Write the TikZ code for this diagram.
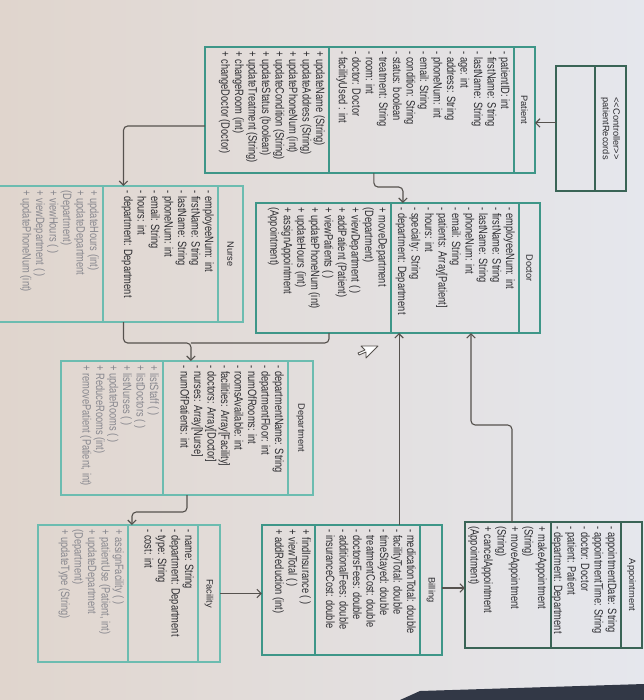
\documentclass[tikz,border=0pt]{standalone}
\usepackage{fontspec}
\setmainfont{Liberation Sans}
\usetikzlibrary{arrows.meta}

\definecolor{boxteal}{RGB}{62,150,136}
\definecolor{boxpale}{RGB}{108,188,176}
\definecolor{boxdark}{RGB}{58,100,86}
\definecolor{wirecol}{RGB}{86,82,78}
\definecolor{ink}{RGB}{44,44,48}
\definecolor{inkpale}{RGB}{135,135,142}
\definecolor{bgleft}{RGB}{224,213,205}
\definecolor{bgright}{RGB}{229,231,237}
\definecolor{bezel}{RGB}{50,56,70}

\newcommand{\membfont}{\fontsize{6.6}{7.4}\selectfont}

\begin{document}
\begin{tikzpicture}[x=0.025cm,y=-0.025cm,>={Straight Barb[length=3pt,width=6pt]},
	box/.style={draw=boxteal,line width=0.9pt,rotate=-90,anchor=north west,outer sep=0pt,inner sep=0pt,font=\membfont,text=ink},
	members/.style={rotate=-90,yscale=1.3,anchor=north west,align=left,inner xsep=3pt,inner ysep=2pt,font=\membfont,text=ink},
	link/.style={->,draw=wirecol,line width=0.8pt,rounded corners=3pt}]
	\useasboundingbox (0,0) rectangle (644,700);
	\fill [left color=bgleft,right color=bgright] (0,0) rectangle (644,700);
	\fill [bezel] (400,700) -- (420,691) -- (644,684) -- (644,700) -- cycle;

	% controller
	\node [box,draw=boxdark,minimum width=3.125cm,minimum height=0.775cm,align=center] at (626,66) (ctrl) {<\kern0pt<Controller>\kern0pt>\\patientRecords};
	\node [box,draw=boxdark,minimum width=3.125cm,minimum height=0.975cm] at (ctrl.south west) (ctrl-b) {};

	% patient
	\node [box,minimum width=3.15cm,minimum height=0.525cm] at (535,47) (pat) {Patient};
	\node [box,minimum width=3.15cm,minimum height=4.625cm] at (pat.south west) (pat-a) {};
	\node [box,minimum width=3.15cm,minimum height=3.1cm] at (pat-a.south west) (pat-m) {};
	\node [members] at (pat-a.north west) (pat-at) {- patientID: int\\- firstName: String\\- lastName: String\\- age: int\\- address: String\\- phoneNum: int\\- email: String\\- condition: String\\- status: boolean\\- treatment: String\\- room: int\\- doctor: Doctor\\- facilityUsed : int};
	\node [members] at (pat-m.north west) (pat-op) {+ updateName (String)\\+ updateAddress (String)\\+ updatePhoneNum (int)\\+ updateCondition (String)\\+ updateStatus (boolean)\\+ updateTreatment (String)\\+ changeRoom (int)\\+ changeDoctor (Doctor)};

	% doctor
	\node [box,minimum width=3.25cm,minimum height=0.525cm] at (540,203) (doc) {Doctor};
	\node [box,minimum width=3.25cm,minimum height=3.2cm] at (doc.south west) (doc-a) {};
	\node [box,minimum width=3.25cm,minimum height=3.375cm] at (doc-a.south west) (doc-m) {};
	\node [members] at (doc-a.north west) (doc-at) {- employeeNum: int\\- firstName: String\\- lastName: String\\- phoneNum: int\\- email: String\\- patients: Array[Patient]\\- hours: int\\- specialty: String\\- department: Department};
	\node [members] at (doc-m.north west) (doc-op) {+ moveDepartment\\(Department)\\+ viewDepartment ( )\\+ addPatient (Patient)\\+ viewPatients ( )\\+ updatePhoneNum (int)\\+ updateHours (int)\\+ assignAppointment\\(Appointment)};

	% nurse
	\node [box,draw=boxpale,minimum width=3.4cm,minimum height=0.625cm] at (243,186) (nur) {Nurse};
	\node [box,draw=boxpale,minimum width=3.4cm,minimum height=2.875cm] at (nur.south west) (nur-a) {};
	\node [box,draw=boxpale,minimum width=3.4cm,minimum height=2.8cm] at (nur-a.south west) (nur-m) {};
	\node [members] at (nur-a.north west) (nur-at) {- employeeNum: int\\- firstName: String\\- lastName: String\\- phoneNum: int\\- email: String\\- hours: int\\- department: Department};
	\node [members,text=inkpale] at (nur-m.north west) (nur-op) {+ updateHours (int)\\+ updateDepartment\\(Department)\\+ viewHours ( )\\+ viewDepartment ( )\\+ updatePhoneNum (int)};

	% department
	\node [box,draw=boxpale,minimum width=3.35cm,minimum height=0.625cm] at (313,361) (dep) {Department};
	\node [box,draw=boxpale,minimum width=3.35cm,minimum height=3.125cm] at (dep.south west) (dep-a) {};
	\node [box,draw=boxpale,minimum width=3.35cm,minimum height=2.55cm] at (dep-a.south west) (dep-m) {};
	\node [members] at (dep-a.north west) (dep-at) {- departmentName: String\\- departmentFloor: int\\- numOfRooms: int\\- roomsAvailable: int\\- facilities: Array[Facility]\\- doctors: Array[Doctor]\\- nurses: Array[Nurse]\\- numOfPatients: int};
	\node [members,text=inkpale] at (dep-m.north west) (dep-op) {+ listStaff ( )\\+ listDoctors ( )\\+ listNurses ( )\\+ updateRooms ( )\\+ ReduceRooms (int)\\+ removePatient (Patient, int)};

	% facility
	\node [box,draw=boxpale,minimum width=3.425cm,minimum height=0.55cm] at (220,525) (fac) {Facility};
	\node [box,draw=boxpale,minimum width=3.425cm,minimum height=1.75cm] at (fac.south west) (fac-a) {};
	\node [box,draw=boxpale,minimum width=3.425cm,minimum height=2.25cm] at (fac-a.south west) (fac-m) {};
	\node [members] at (fac-a.north west) (fac-at) {- name: String\\- department: Department\\- type: String\\- cost: int};
	\node [members,text=inkpale] at (fac-m.north west) (fac-op) {+ assignFacility ( )\\+ patientUse (Patient, int)\\+ updateDepartment\\(Department)\\+ updateType (String)};

	% billing
	\node [box,minimum width=3.25cm,minimum height=0.55cm] at (442,525) (bil) {Billing};
	\node [box,minimum width=3.25cm,minimum height=2.625cm] at (bil.south west) (bil-a) {};
	\node [box,minimum width=3.25cm,minimum height=1.325cm] at (bil-a.south west) (bil-m) {};
	\node [members] at (bil-a.north west) (bil-at) {- medicationTotal: double\\- facilityTotal: double\\- timeStayed: double\\- treatmentCost: double\\- doctorsFees: double\\- additionalFees: double\\- insuranceCost: double};
	\node [members] at (bil-m.north west) (bil-op) {+ findInsurance ( )\\+ viewTotal ( )\\+ addReduction (int)};

	% appointment
	\node [box,draw=boxdark,minimum width=3.15cm,minimum height=0.525cm] at (642,522) (app) {Appointment};
	\node [box,draw=boxdark,minimum width=3.15cm,minimum height=1.75cm] at (app.south west) (app-a) {};
	\node [box,draw=boxdark,minimum width=3.15cm,minimum height=2.15cm] at (app-a.south west) (app-m) {};
	\node [members] at (app-a.north west) (app-at) {- appointmentDate: String\\- appointmentTime: String\\- doctor: Doctor\\- patient: Patient\\- department: Department};
	\node [members] at (app-m.north west) (app-op) {+ makeAppointment\\(String)\\+ moveAppointment\\(String)\\+ cancelAppointment\\(Appointment)};

	% connectors
	\coordinate (dep-in) at ([xshift=-0.8625cm]dep-a.west);
	\draw [link] ([yshift=0.14cm]ctrl-b.south) -- ([yshift=0.14cm]ctrl-b.south -| pat.north);
	\draw [link] ([yshift=-0.4cm]pat-m.south) -| ([xshift=-0.925cm]nur-a.west);
	\draw [link] ([xshift=-1.19cm]pat-a.east) -- ++(0,14) -| ([xshift=-1.3cm]doc-a.west);
	\draw [link] ([xshift=-0.925cm]nur-a.east) |- ([yshift=0.45cm]dep-in) -- (dep-in);
	\draw [link,-] ([xshift=0.14cm]doc-m.east) |- ([yshift=0.45cm]dep-in);
	\draw [link] ([xshift=-0.9625cm]dep-a.east) -- ++(0,17) -| ([xshift=-0.775cm]fac-a.west);
	\draw [link] (fac.north) -- (fac.north -| bil-m.south);
	\draw [link] ([yshift=0.05cm]bil.north) -- ([yshift=0.05cm]bil.north -| app-m.south);
	\draw [link] ([xshift=0.79cm]bil-a.west) -- ([xshift=0.79cm]bil-a.west |- doc-a.east);
	\draw [link] ([xshift=0.1cm]app-m.west) -- ++(0,-97) -| ([xshift=0.4cm]doc-a.east);

	% pointer
	\filldraw [fill=white,draw=wirecol,line width=0.6pt,line join=round] (378,346) -- (361,346) -- (365,350) -- (358,353) -- (359,355) -- (366,352) -- (366,358) -- cycle;
\end{tikzpicture}
\end{document}
